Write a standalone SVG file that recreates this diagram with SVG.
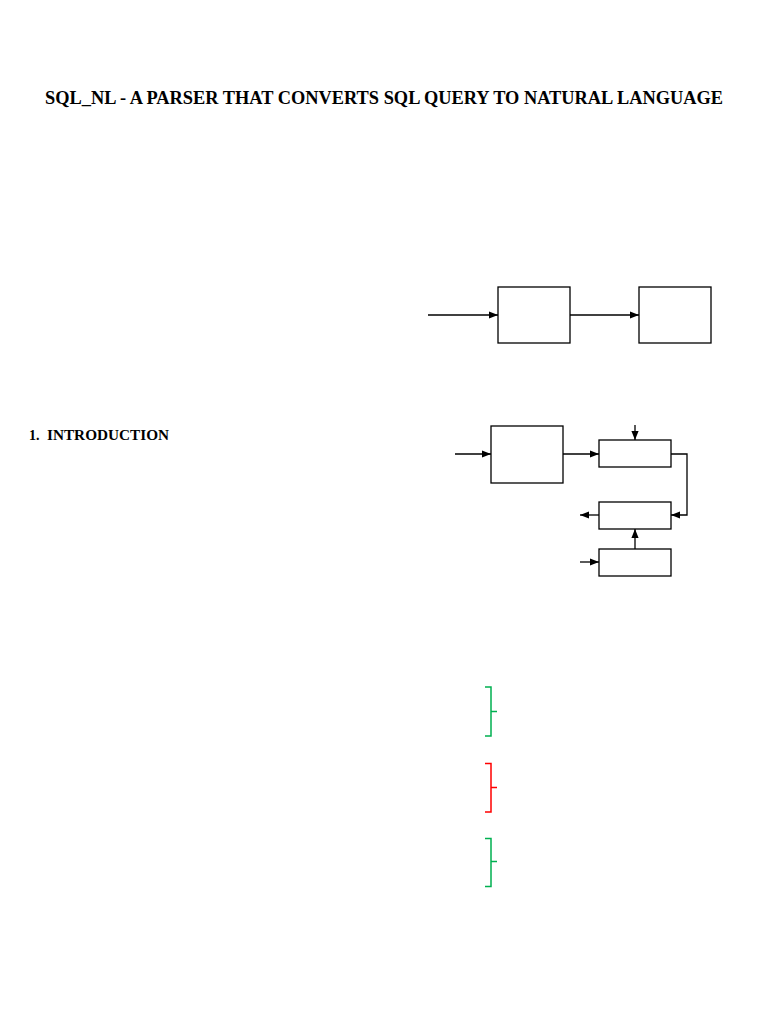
<svg xmlns="http://www.w3.org/2000/svg" width="768" height="1024" viewBox="0 0 768 1024">
<style>
.box{fill:#fff;stroke:#000;stroke-width:1.3}
.ln{fill:none;stroke:#000;stroke-width:1.3}
.t{font-family:"Liberation Serif","Times New Roman",serif;font-weight:bold;fill:#000}
.br{fill:none;stroke-width:1.5}
</style>
<defs>
<marker id="ah" viewBox="0 0 10 8" refX="10" refY="4" markerWidth="9" markerHeight="7.5" markerUnits="userSpaceOnUse" orient="auto">
<path d="M0,0 L10,4 L0,8 z" fill="#000"/>
</marker>
</defs>
<rect width="768" height="1024" fill="#fff"/>
<text class="t" x="45" y="104" font-size="18" textLength="678" lengthAdjust="spacingAndGlyphs">SQL_NL - A PARSER THAT CONVERTS SQL QUERY TO NATURAL LANGUAGE</text>
<text class="t" font-size="14"><tspan x="29" y="439.5">1.</tspan><tspan x="47" y="439.5" textLength="122" lengthAdjust="spacingAndGlyphs">INTRODUCTION</tspan></text>
<g id="n1"><rect class="box" x="498" y="287" width="72" height="56"/></g>
<g id="n2"><rect class="box" x="639" y="287" width="72" height="56"/></g>
<g id="n3"><rect class="box" x="491" y="426" width="72" height="57"/></g>
<g id="n4"><rect class="box" x="599" y="440" width="72" height="27"/></g>
<g id="n5"><rect class="box" x="599" y="502" width="72" height="27"/></g>
<g id="n6"><rect class="box" x="599" y="549" width="72" height="27"/></g>
<g id="connectors">
<line class="ln" x1="428" y1="315" x2="498" y2="315" marker-end="url(#ah)"/>
<line class="ln" x1="570" y1="315" x2="639" y2="315" marker-end="url(#ah)"/>
<line class="ln" x1="455" y1="454" x2="491" y2="454" marker-end="url(#ah)"/>
<line class="ln" x1="563" y1="454" x2="599" y2="454" marker-end="url(#ah)"/>
<line class="ln" x1="635" y1="425" x2="635" y2="440" marker-end="url(#ah)"/>
<polyline class="ln" points="671,454 687,454 687,515 671,515" marker-end="url(#ah)"/>
<line class="ln" x1="599" y1="515" x2="580" y2="515" marker-end="url(#ah)"/>
<line class="ln" x1="635" y1="549" x2="635" y2="529" marker-end="url(#ah)"/>
<line class="ln" x1="580" y1="562" x2="599" y2="562" marker-end="url(#ah)"/>
</g>
<g id="brackets">
<path class="br" stroke="#00b050" d="M485,687 L491,687 L491,736 L485,736 M491,711.5 L497,711.5"/>
<path class="br" stroke="#ff0000" d="M485,763.5 L491,763.5 L491,812 L485,812 M491,787.5 L497,787.5"/>
<path class="br" stroke="#00b050" d="M485,838.5 L491,838.5 L491,886.5 L485,886.5 M491,861.5 L497,861.5"/>
</g>
</svg>
